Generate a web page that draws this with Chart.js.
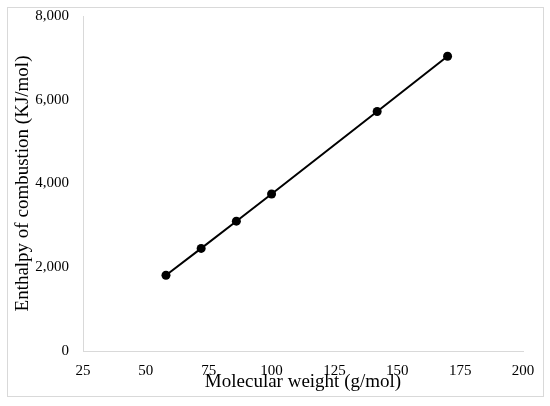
<!DOCTYPE html>
<html>
<head>
<meta charset="utf-8">
<script src="https://cdn.jsdelivr.net/npm/chart.js@4"></script>
<style>
html,body{margin:0;padding:0;background:#fff;}
#wrap{width:550px;height:406px;position:relative;}
</style>
</head>
<body>
<div id="wrap"><canvas id="c" width="550" height="406"></canvas></div>
<script>
const molecularWeight = [58, 72, 86, 100, 142, 170];
const enthalpy = [1810, 2450, 3100, 3750, 5720, 7040];
const xTicks = [25, 50, 75, 100, 125, 150, 175, 200];
const yTicks = [0, 2000, 4000, 6000, 8000];
const xTitle = 'Molecular weight (g/mol)';
const yTitle = 'Enthalpy of combustion (KJ/mol)';

const points = molecularWeight.map((x, i) => ({x: x, y: enthalpy[i]}));
const serif = 'Liberation Serif, Times New Roman, serif';

const frame = {
  id: 'frame',
  beforeDraw(chart) {
    const ctx = chart.ctx;
    ctx.save();
    ctx.fillStyle = '#fff';
    ctx.fillRect(0, 0, chart.width, chart.height);
    ctx.strokeStyle = '#d9d9d9';
    ctx.lineWidth = 1;
    ctx.strokeRect(7.5, 7.5, 536, 389);
    ctx.restore();
  }
};

new Chart(document.getElementById('c'), {
  type: 'scatter',
  data: {
    datasets: [{
      data: points,
      showLine: true,
      borderColor: '#000',
      backgroundColor: '#000',
      borderWidth: 2,
      pointRadius: 4.5,
      pointHoverRadius: 4.5,
      pointBorderWidth: 0
    }]
  },
  options: {
    responsive: false,
    animation: false,
    devicePixelRatio: 1,
    layout: {padding: {top: 16, right: 27, left: 0, bottom: 0}},
    plugins: {legend: {display: false}, tooltip: {enabled: false}},
    scales: {
      x: {
        type: 'linear',
        min: 25, max: 200,
        afterBuildTicks(s) { s.ticks = xTicks.map(v => ({value: v})); },
        afterFit(s) { s.height = 55; s.paddingLeft = 0; s.paddingRight = 0; },
        grid: {display: false, drawTicks: false},
        border: {display: true, color: '#d9d9d9', width: 1},
        ticks: {color: '#000', font: {family: serif, size: 15}, padding: 11, maxRotation: 0,
                callback: v => String(v)},
        title: {display: true, text: xTitle, color: '#000',
                font: {family: serif, size: 19}, padding: {top: 0, bottom: 13}}
      },
      y: {
        type: 'linear',
        min: 0, max: 8000,
        afterBuildTicks(s) { s.ticks = yTicks.map(v => ({value: v})); },
        afterFit(s) { s.width = 83; s.paddingTop = 0; s.paddingBottom = 0; },
        grid: {display: false, drawTicks: false},
        border: {display: true, color: '#d9d9d9', width: 1},
        ticks: {color: '#000', font: {family: serif, size: 15}, padding: 14,
                callback: v => Number(v).toLocaleString('en-US')},
        title: {display: true, text: yTitle, color: '#000',
                font: {family: serif, size: 19}, padding: {top: 12, bottom: 0}}
      }
    }
  },
  plugins: [frame]
});
</script>
</body>
</html>
